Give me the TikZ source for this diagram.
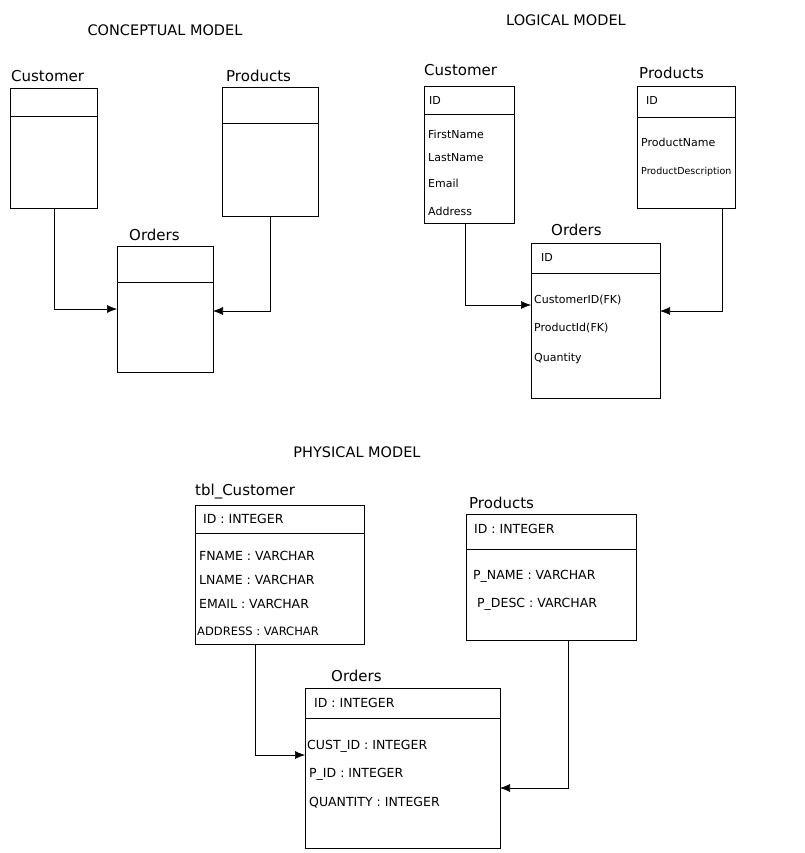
\documentclass[tikz,border=0pt]{standalone}
\usepackage{fontspec}
\setmainfont{DejaVu Sans}
\usetikzlibrary{positioning,arrows.meta}
\tikzset{
  box/.style={draw=black, semithick, inner sep=0pt, anchor=north west},
  lbl/.style={font=\fontsize{15}{17}\selectfont, anchor=west, inner sep=1pt},
  row/.style={font=\fontsize{11}{13}\selectfont, anchor=west, inner sep=1pt},
  caps/.style={font=\fontsize{12.5}{14}\selectfont, anchor=west, inner sep=1pt},
  ttl/.style={font=\fontsize{14.5}{17}\selectfont},
  link/.style={-{Latex[length=10pt,width=8pt]}, semithick}
}
% box with header: name, x1, x2, y1, y2, y3
\newcommand{\tbl}[6]{%
  \node[box, minimum width=#3pt-#2pt, minimum height=#5pt-#4pt] (#1h) at (#2,#4) {};
  \node[box, minimum width=#3pt-#2pt, minimum height=#6pt-#5pt] (#1b) at (#2,#5) {};
}
\begin{document}
\begin{tikzpicture}[x=1pt, y=-1pt]
  \useasboundingbox (0,0) rectangle (804,853);

  % conceptual
  \node[ttl] (t1) at (165,30) {CONCEPTUAL MODEL};
  \tbl{cc}{10}{97}{88}{116}{208}
  \tbl{cp}{222}{318}{87}{123}{216}
  \tbl{co}{117}{213}{246}{282}{372}
  \node[lbl] (ccl) at (10,76) {Customer};
  \node[lbl] (cpl) at (225,76) {Products};
  \node[lbl] (col) at (128,235) {Orders};
  \coordinate (ca) at (117,309);
  \coordinate (cb) at (213,311);
  \draw[link] (ccb.south) |- (ca);
  \draw[link] (cpb.south) |- (cb);

  % logical
  \node[ttl] (t2) at (566,20) {LOGICAL MODEL};
  \tbl{lc}{424}{514}{86}{114}{223}
  \tbl{lp}{637}{735}{86}{117}{208}
  \tbl{lo}{531}{660}{243}{273}{398}
  \node[lbl] (lcl) at (423,70) {Customer};
  \node[lbl] (lpl) at (638,73) {Products};
  \node[lbl] (lol) at (550,230) {Orders};
  \node[row] at (428,100) {ID};
  \node[row] at (427,134) {FirstName};
  \node[row] at (427,158) {LastName};
  \node[row] at (427,183) {Email};
  \node[row] at (427,211) {Address};
  \node[row] at (645,100) {ID};
  \node[row] at (640,142) {ProductName};
  \node[row] at (640,172) {\fontsize{9.5}{11}\selectfont ProductDescription};
  \node[row] at (540,257) {ID};
  \node[row] at (533,300) {CustomerID(FK)};
  \node[row] at (533,328) {ProductId(FK)};
  \node[row] at (533,358) {Quantity};
  \coordinate (ls) at (465,223);
  \coordinate (la) at (531,305);
  \coordinate (lt) at (722,208);
  \coordinate (lb) at (660,311);
  \draw[link] (ls) |- (la);
  \draw[link] (lt) |- (lb);

  % physical
  \node[ttl] (t3) at (357,452) {PHYSICAL MODEL};
  \tbl{pc}{195}{364}{505}{533}{644}
  \tbl{pp}{466}{636}{514}{549}{640}
  \tbl{po}{305}{500}{688}{718}{848}
  \node[lbl] (pcl) at (194,492) {tbl\_Customer};
  \node[lbl] (ppl) at (468,503) {Products};
  \node[lbl] (pol) at (330,676) {Orders};
  \node[caps] at (202,519) {ID : INTEGER};
  \node[caps] at (198,556) {FNAME : VARCHAR};
  \node[caps] at (198,580) {LNAME : VARCHAR};
  \node[caps] at (198,604) {EMAIL : VARCHAR};
  \node[caps] at (196,631) {\fontsize{11.5}{13}\selectfont ADDRESS : VARCHAR};
  \node[caps] at (473,529) {ID : INTEGER};
  \node[caps] at (472,576) {P\_NAME : VARCHAR};
  \node[caps] at (476,604) {P\_DESC : VARCHAR};
  \node[caps] at (313,703) {ID : INTEGER};
  \node[caps] at (306,746) {CUST\_ID : INTEGER};
  \node[caps] at (308,774) {P\_ID : INTEGER};
  \node[caps] at (308,803) {QUANTITY : INTEGER};
  \coordinate (ps) at (255,645);
  \coordinate (pa) at (305,755);
  \coordinate (pt) at (568,640);
  \coordinate (pb) at (500,788);
  \draw[link] (ps) |- (pa);
  \draw[link] (pt) |- (pb);
\end{tikzpicture}
\end{document}
